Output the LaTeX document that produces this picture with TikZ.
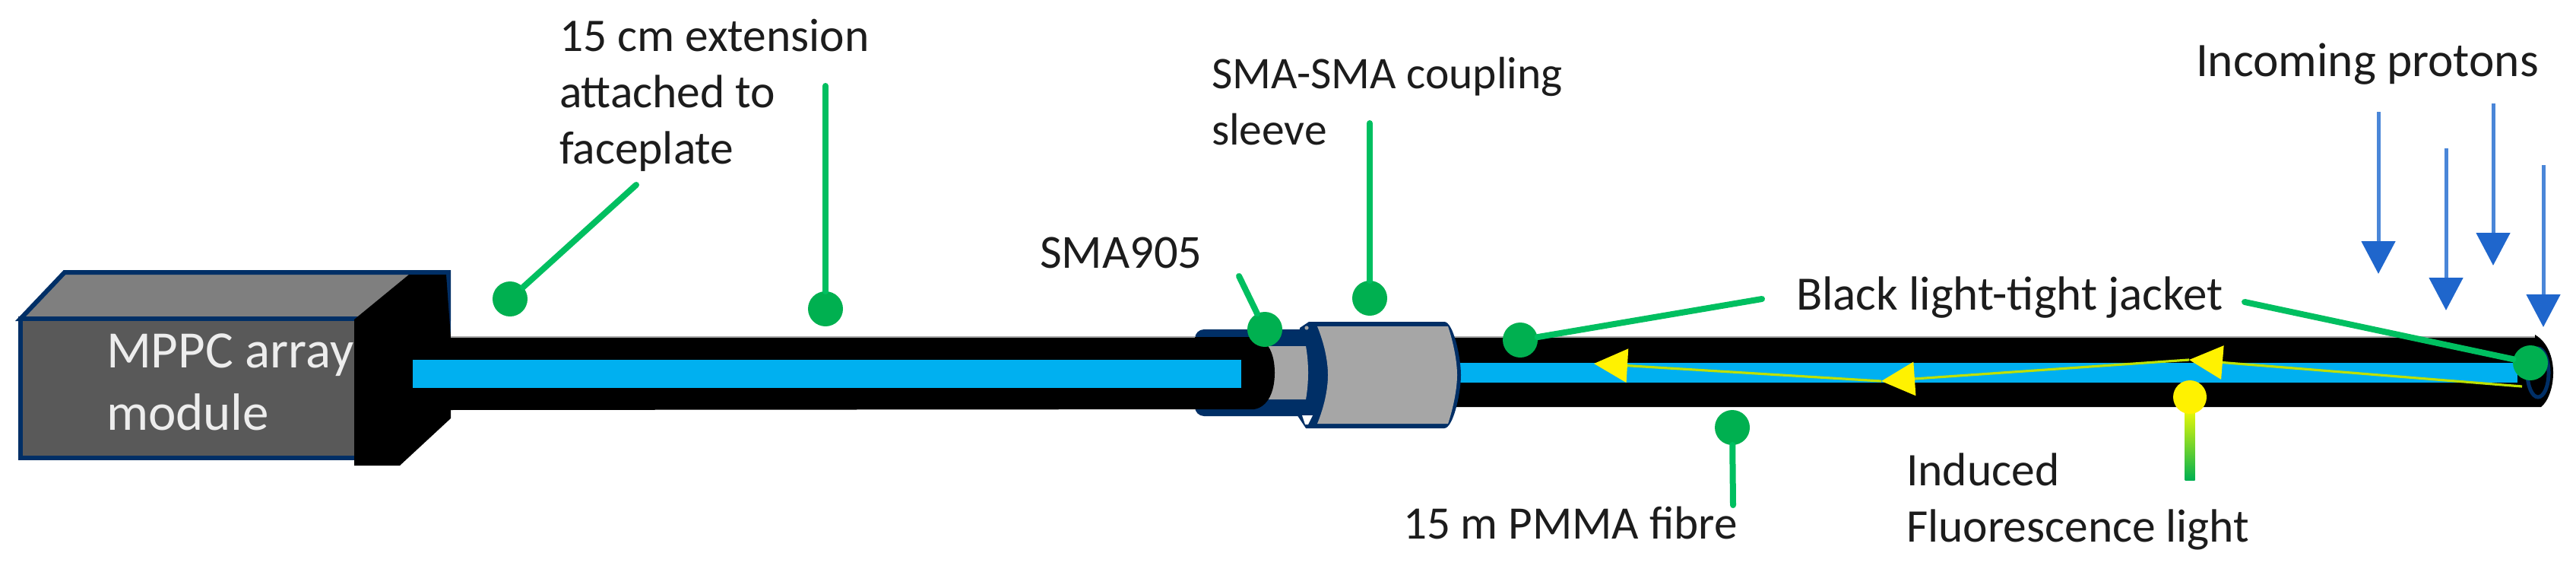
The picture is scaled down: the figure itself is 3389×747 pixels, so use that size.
\documentclass[tikz,border=0pt]{standalone}
\usepackage{fontspec}
\setmainfont{Carlito}
\usetikzlibrary{arrows.meta}
\definecolor{navyline}{HTML}{002F66}
\definecolor{frontgray}{HTML}{595959}
\definecolor{topgray}{HTML}{7F7F7F}
\definecolor{metal}{HTML}{A6A6A6}
\definecolor{core}{HTML}{00B0F0}
\definecolor{dotgreen}{HTML}{00B050}
\definecolor{leadgreen}{HTML}{00BF60}
\definecolor{protonline}{HTML}{4A86D8}
\definecolor{protonhead}{HTML}{1F66CC}
\definecolor{ray}{HTML}{BEE000}
\definecolor{inktext}{HTML}{1C1C1C}
\newcommand{\labsize}[1]{\fontsize{#1}{74}\selectfont}
\tikzset{
  lab/.style={anchor=base west,inner sep=0pt,outer sep=0pt,text=inktext,align=left},
  whitelab/.style={lab,text=white!93!black},
  gdot/.style={circle,fill=dotgreen,draw=none,minimum size=46pt,inner sep=0pt,outer sep=0pt},
  leader/.style={draw=leadgreen,line width=8pt,line cap=round},
  proton/.style={draw=protonline,line width=5pt,-{Triangle[length=43pt,width=44pt,color=protonhead,fill=protonhead]}},
  rayseg/.style={draw=ray,line width=3.2pt,-{Triangle[length=44pt,width=44pt,color=yellow,fill=yellow]}},
}
\begin{document}
\begin{tikzpicture}[x=1pt,y=-1pt]
\useasboundingbox (0,0) rectangle (3389,747);
\fill[white] (0,0) rectangle (3389,747);
% module box
\draw[fill=topgray,draw=navyline,line width=6pt,line join=miter] (27,419) -- (85,358) -- (590,358) -- (590,419) -- cycle;
\draw[fill=frontgray,draw=navyline,line width=6pt] (27,419) rectangle (480,602);
\draw[navyline,line width=6pt] (590,358) -- (590,445);
% faceplate
\fill[black] (466,420) -- (538,361) -- (587,361) -- (593,443) -- (593,550) -- (526,612) -- (466,612) -- cycle;
% second fibre
\fill[black] (1890,443) -- (3335,443) -- (3335,440) .. controls (3352,450) and (3359,470) .. (3359,490) .. controls (3359,510) and (3352,528) .. (3343,535) -- (1890,535) -- cycle;
\draw[gray!70,line width=1.5pt] (1890,443) -- (3335,443);
\draw[navyline,line width=5pt] (3339,490) ellipse [x radius=14,y radius=32];
\fill[core] (1900,477) rectangle (3312,503);
% SMA905 body
\fill[navyline,rounded corners=12pt] (1572,433) rectangle (1740,547);
% sleeve
\fill[navyline] (1710,431) -- (1722,423) -- (1900,423) .. controls (1912,423) and (1922,470) .. (1922,493) .. controls (1922,516) and (1912,563) .. (1900,563) -- (1718,563) -- (1706,545) -- cycle;
\fill[white] (1713,546) -- (1727,546) -- (1721,558) -- (1717,558) -- cycle;
\fill[metal] (1719,431) circle (2.6);
\fill[metal] (1733,429) -- (1905,429) .. controls (1912,450) and (1917,475) .. (1917,493) .. controls (1917,511) and (1912,536) .. (1905,557) -- (1733,557) .. controls (1742,535) and (1747,512) .. (1747,493) .. controls (1747,474) and (1742,451) .. (1733,429) -- cycle;
\fill[metal] (1660,455) -- (1718,455) .. controls (1722,478) and (1722,502) .. (1718,525) -- (1660,525) -- cycle;
% extension
\fill[black] (588,443) -- (1650,443) .. controls (1668,446) and (1677,465) .. (1677,490) .. controls (1677,515) and (1668,535) .. (1650,538) -- (588,539) -- cycle;
\draw[gray!70,line width=1.5pt] (593,443) -- (1572,443);
\fill[core] (543,473) rectangle (1633,510);
% rays
\coordinate (r0) at (3318,508);
\coordinate (r1) at (2880,473);
\coordinate (r2) at (2475,501);
\coordinate (r3) at (2097,478);
\draw[rayseg] (r0) -- (r1);
\draw[rayseg] (r1) -- (r2);
\draw[rayseg] (r2) -- (r3);
% yellow leader
\node[inner sep=0pt,outer sep=0pt,minimum width=13pt,minimum height=100pt,top color=yellow,middle color=green!85!black,bottom color=dotgreen] (yl) at (2881,581) {};
\node[circle,fill=yellow,minimum size=44pt,inner sep=0pt] (dy) at (2881,522) {};
% green leaders
\node[gdot] (d1) at (671,393) {};
\node[gdot] (d2) at (1086,406) {};
\node[gdot] (d3) at (1664,433) {};
\node[gdot] (d4) at (1802,392) {};
\node[gdot] (d5) at (2000,447) {};
\node[gdot] (d6) at (3329,477) {};
\node[gdot] (d7) at (2279,562) {};
\coordinate (e1) at (837,243);
\coordinate (e2) at (1086,113);
\coordinate (e3) at (1630,363);
\coordinate (e4) at (1802,162);
\coordinate (e5) at (2318,393);
\coordinate (e6) at (2953,397);
\coordinate (e7) at (2280,664);
\draw[leader] (e1) -- (d1);
\draw[leader] (e2) -- (d2);
\draw[leader] (e3) -- (d3);
\draw[leader] (e4) -- (d4);
\draw[leader] (e5) -- (d5);
\draw[leader] (e6) -- (d6);
\draw[leader] (e7) -- (d7);
% protons
\coordinate (p1a) at (3129,147); \coordinate (p1b) at (3129,360);
\coordinate (p2a) at (3218,195); \coordinate (p2b) at (3218,408);
\coordinate (p3a) at (3280,136); \coordinate (p3b) at (3280,349);
\coordinate (p4a) at (3346,217); \coordinate (p4b) at (3346,430);
\draw[proton] (p1a) -- (p1b);
\draw[proton] (p2a) -- (p2b);
\draw[proton] (p3a) -- (p3b);
\draw[proton] (p4a) -- (p4b);
% labels
\node[whitelab,font=\fontsize{69}{82}\selectfont] (tm) at (140,565) {MPPC array\\module};
\node[lab,font=\labsize{61.5}] (t1) at (736,215) {15 cm extension\\attached to\\faceplate};
\node[lab,font=\labsize{59.5}] (t2) at (1594,190) {SMA-SMA coupling\\sleeve};
\node[lab,font=\labsize{62.5}] (t3) at (1368,352) {SMA905};
\node[lab,font=\labsize{63}] (t4) at (2363,407) {Black light-tight jacket};
\node[lab,font=\labsize{63.3}] (t5) at (2889,100) {Incoming protons};
\node[lab,font=\labsize{61.2}] (t6) at (1846,708) {15 m PMMA fibre};
\node[lab,font=\labsize{61.5}] (t7) at (2508,712) {Induced\\Fluorescence light};
\end{tikzpicture}
\end{document}
